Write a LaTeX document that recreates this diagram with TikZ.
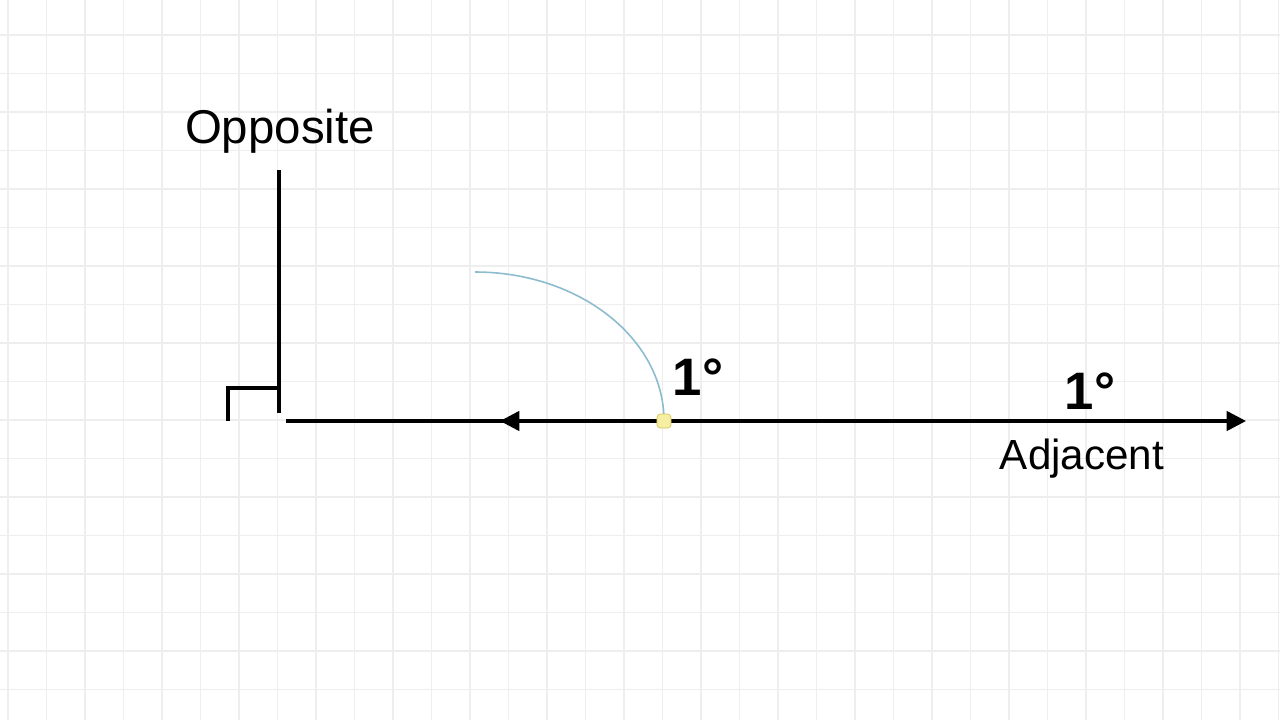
\documentclass[tikz,border=0pt]{standalone}
\usepackage{fontspec}
\setmainfont{Liberation Sans}
\usetikzlibrary{arrows.meta}
\definecolor{gridgray}{RGB}{238,238,238}
\definecolor{arcblue}{RGB}{140,188,205}
\definecolor{dotfill}{RGB}{246,238,160}
\definecolor{dotedge}{RGB}{214,196,96}
\begin{document}
\begin{tikzpicture}[x=0.02cm,y=-0.02cm,
    side/.style={line width=2pt},
    lbl/.style={font=\fontsize{24}{24}\selectfont,anchor=base},
    ang/.style={font=\fontsize{30}{30}\selectfont\bfseries,anchor=base},
    tip/.style={-{Triangle[length=11pt,width=11pt]}}]
    \useasboundingbox (0,0) rectangle (1280,720);
    \fill[white] (0,0) rectangle (1280,720);
    %\draw[red] (0,0) grid (1280,720);
    \foreach \x in {0,...,33} \draw[gridgray,line width=0.6pt] ({8+38.5*\x},0) -- ({8+38.5*\x},720);
    \foreach \y in {1,...,19} \draw[gridgray,line width=0.6pt] (0,{-3.5+38.5*\y}) -- (1280,{-3.5+38.5*\y});

    \coordinate (top) at (279,170);
    \coordinate (foot) at (279,413);
    \coordinate (start) at (286,421);
    \coordinate (end) at (1246,421);
    \coordinate (back) at (521,421);
    \coordinate (mid) at (500,421);
    \coordinate (p) at (664,421);

    \draw[side] (top) -- (foot);
    \draw[side] (228,421) -- (228,388) -- (279,388);
    \draw[side,tip] (start) -- (end);
    \draw[side,tip] (back) -- (mid);

    \draw[arcblue,line width=0.9pt] (p) arc[start angle=0,end angle=-90,x radius=189,y radius=149];
    \node[draw=dotedge,fill=dotfill,rounded corners=2pt,minimum size=8pt,inner sep=0pt] (pivot) at (p) {};

    \node[lbl,font=\fontsize{27}{27}\selectfont] (opp) at (280,143) {Opposite};
    \node[lbl] (adj) at (1082,469) {Adjacent};
    \node[ang] (inner) at (698,395) {1°};
    \node[ang] (outer) at (1090,409) {1°};
\end{tikzpicture}
\end{document}
